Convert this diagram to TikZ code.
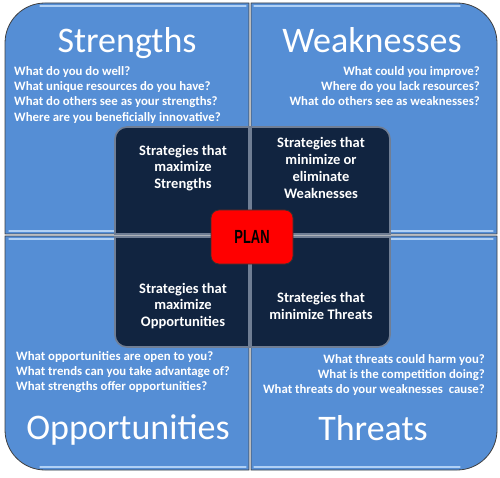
\documentclass[tikz,border=0pt]{standalone}
\usepackage{fontspec}
\setmainfont{Carlito}
\newfontfamily\planfont{Liberation Sans}
\usetikzlibrary{positioning}
\definecolor{quadblue}{RGB}{85,142,213}
\definecolor{navy}{RGB}{17,36,64}
\definecolor{rim}{RGB}{112,126,148}
\definecolor{shine}{RGB}{175,208,245}

\begin{document}
\begin{tikzpicture}[x=1pt,y=1pt,
 quad/.style={fill=quadblue,draw=black!75,line width=0.8pt},
 shineline/.style={draw=shine,line width=1.3pt,line cap=round},
 core/.style={fill=navy,draw=rim,line width=1.6pt},
 title/.style={text=white,anchor=base,inner sep=0pt,font=\fontsize{36}{40}\selectfont},
 ask/.style={text=white,inner sep=0pt,font=\bfseries\fontsize{12.8}{15.3}\selectfont},
 strat/.style={text=white,align=center,font=\bfseries\fontsize{14.5}{16.8}\selectfont},
 plan/.style={fill=red,draw=black!80,line width=0.8pt,rounded corners=8pt,
   minimum width=82pt,minimum height=54pt,inner sep=0pt}]
\useasboundingbox (0,0) rectangle (500,477);
% four quadrants
\draw[quad] (5,243) -- (5,434) arc[start angle=180,end angle=90,radius=40] -- (249,474) -- (249,243) -- cycle;
\draw[quad] (251,243) -- (251,474) -- (457,474) arc[start angle=90,end angle=0,radius=40] -- (497,243) -- cycle;
\draw[quad] (5,241) -- (249,241) -- (249,7) -- (45,7) arc[start angle=270,end angle=180,radius=40] -- cycle;
\draw[quad] (251,241) -- (497,241) -- (497,47) arc[start angle=0,end angle=-90,radius=40] -- (251,7) -- cycle;
% highlights
\draw[shineline] (40,471) -- (246,471) (9,246) -- (246,246);
\draw[shineline] (254,471) -- (460,471) (254,246) -- (493,246);
\draw[shineline] (9,238) -- (246,238) (40,10) -- (246,10);
\draw[shineline] (254,238) -- (493,238) (254,10) -- (460,10);
% strategy boxes
\draw[core] (115,243) -- (115,338) arc[start angle=180,end angle=90,radius=12] -- (249,350) -- (249,243) -- cycle;
\draw[core] (251,243) -- (251,350) -- (378,350) arc[start angle=90,end angle=0,radius=12] -- (390,243) -- cycle;
\draw[core] (115,240) -- (249,240) -- (249,130) -- (127,130) arc[start angle=270,end angle=180,radius=12] -- cycle;
\draw[core] (251,240) -- (390,240) -- (390,142) arc[start angle=0,end angle=-90,radius=12] -- (251,130) -- cycle;
% titles
\node[title] (str) at (127,424) {Strengths};
\node[title] (weak) at (372,424) {Weaknesses};
\node[title] (opp) at (128,38) {Opportunities};
\node[title] (thr) at (373,37) {Threats};
% questions
\node[ask,anchor=north west,align=left] (strq) at (14,411)
  {What do you do well?\\What unique resources do you have?\\What do others see as your strengths?\\Where are you beneficially innovative?};
\node[ask,anchor=north east,align=right] (weakq) at (480,411)
  {What could you improve?\\Where do you lack resources?\\What do others see as weaknesses?};
\node[ask,anchor=north west,align=left] (oppq) at (16,126)
  {What opportunities are open to you?\\What trends can you take advantage of?\\What strengths offer opportunities?};
\node[ask,anchor=north east,align=right] (thrq) at (485,123)
  {What threats could harm you?\\What is the competition doing?\\What threats do your weaknesses\ \ cause?};
% strategies
\node[strat] (sstr) at (183,309) {Strategies that\\maximize\\Strengths};
\node[strat] (sweak) at (321,309) {Strategies that\\minimize or\\eliminate\\Weaknesses};
\node[strat] (sopp) at (183,171) {Strategies that\\maximize\\Opportunities};
\node[strat] (sthr) at (321,171) {Strategies that\\minimize Threats};
% plan
\node[plan] (plan) at (252,240) {\planfont\bfseries\fontsize{19}{20}\selectfont\scalebox{0.68}[1]{PLAN}};
\end{tikzpicture}
\end{document}
